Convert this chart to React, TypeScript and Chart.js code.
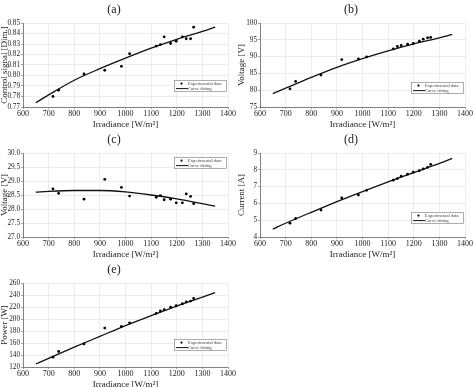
import React, { useEffect, useRef } from "react";
import { Chart, registerables } from "chart.js";

Chart.register(...registerables);

// ---------- data ----------
const irradiance = [717, 739, 838, 919, 984, 1016, 1120, 1136, 1151, 1176, 1198, 1222, 1237, 1254, 1266];
const controlSignal = [0.780, 0.786, 0.8015, 0.805, 0.8087, 0.8207, 0.828, 0.8295, 0.8368, 0.8305, 0.8327, 0.8368, 0.835, 0.835, 0.846];
const panelVoltage = [80.4, 82.6, 84.5, 89.1, 89.3, 89.9, 92.3, 93.0, 93.3, 93.7, 93.9, 94.6, 95.2, 95.6, 95.7];
const loadVoltage = [28.72, 28.56, 28.35, 29.06, 28.77, 28.46, 28.42, 28.48, 28.33, 28.35, 28.22, 28.22, 28.54, 28.45, 28.19];
const current = [4.82, 5.1, 5.6, 6.32, 6.5, 6.78, 7.38, 7.48, 7.62, 7.74, 7.86, 7.95, 8.05, 8.15, 8.32];
const power = [136.4, 145.8, 158.4, 184.8, 187.5, 193.6, 209.5, 213.3, 215.5, 219.9, 222.1, 225.4, 228.7, 229.8, 234.2];

const fitIrradiance = [650, 700, 800, 900, 1000, 1100, 1200, 1300, 1350];
const fitControl = [0.774, 0.7815, 0.7955, 0.8065, 0.8165, 0.826, 0.8345, 0.842, 0.846];
const fitPanelVoltage = [79.0, 80.6, 83.8, 86.8, 89.4, 91.7, 93.8, 95.6, 96.6];
const fitLoadVoltage = [28.6, 28.63, 28.66, 28.66, 28.61, 28.5, 28.36, 28.19, 28.1];
const fitCurrent = [4.47, 4.82, 5.47, 6.1, 6.7, 7.28, 7.83, 8.38, 8.68];
const fitPower = [125, 134.5, 153, 171, 189, 205.5, 221.5, 236.5, 244];

const xTickRange = [600, 1400, 100];
const legendLabels = ["Experimental data", "Curve fitting"];

// ---------- panels ----------
type Panel = {
  title: string;
  yLabel: string;
  y: number[];
  fit: number[];
  yRange: number[];
  decimals: number;
  left: number;
  top: number;
  legendTop: number;
};

const panels: Panel[] = [
  { title: "(a)", yLabel: "Control signal [Dim.]", y: controlSignal, fit: fitControl, yRange: [0.77, 0.85, 0.01], decimals: 2, left: 0, top: 0, legendTop: 80 },
  { title: "(b)", yLabel: "Voltage [V]", y: panelVoltage, fit: fitPanelVoltage, yRange: [75, 100, 5], decimals: 0, left: 237, top: 0, legendTop: 82 },
  { title: "(c)", yLabel: "Voltage [V]", y: loadVoltage, fit: fitLoadVoltage, yRange: [27, 30, 0.5], decimals: 1, left: 0, top: 130, legendTop: 27 },
  { title: "(d)", yLabel: "Current [A]", y: current, fit: fitCurrent, yRange: [4, 9, 1], decimals: 0, left: 237, top: 130, legendTop: 82 },
  { title: "(e)", yLabel: "Power [W]", y: power, fit: fitPower, yRange: [120, 260, 20], decimals: 0, left: 0, top: 260, legendTop: 79 },
];

const FONT = "'Liberation Serif', 'DejaVu Serif', serif";
const W = 237;
const H = 130;

const insetLegend = {
  id: "insetLegend",
  afterDatasetsDraw(chart: any, _args: any, opts: any) {
    const { ctx, chartArea } = chart;
    const w = 53;
    const h = 12;
    const x = chartArea.right - 1 - w;
    const y = opts.top;
    const ds = chart.data.datasets;
    ctx.save();
    ctx.fillStyle = "#ffffff";
    ctx.fillRect(x, y, w, h);
    ctx.strokeStyle = "#8a8a8a";
    ctx.lineWidth = 0.7;
    ctx.strokeRect(x + 0.5, y + 0.5, w - 1, h - 1);
    ctx.font = `4.6px ${FONT}`;
    ctx.textBaseline = "middle";
    ctx.beginPath();
    ctx.arc(x + 7.5, y + 3.6, 1.1, 0, Math.PI * 2);
    ctx.fillStyle = "#000";
    ctx.fill();
    ctx.fillStyle = "#444";
    ctx.fillText(ds[0].label, x + 14, y + 3.6);
    ctx.strokeStyle = "#111";
    ctx.lineWidth = 1;
    ctx.beginPath();
    ctx.moveTo(x + 2, y + 8.6);
    ctx.lineTo(x + 14, y + 8.6);
    ctx.stroke();
    ctx.fillStyle = "#444";
    ctx.fillText(ds[1].label, x + 14, y + 8.6);
    ctx.restore();
  },
};

function PanelChart({ p }: { p: Panel }) {
  const ref = useRef<HTMLCanvasElement | null>(null);
  useEffect(() => {
    if (!ref.current) return;
    const scatter = irradiance.map((x, i) => ({ x, y: p.y[i] }));
    const curve = fitIrradiance.map((x, i) => ({ x, y: p.fit[i] }));
    const chart = new Chart(ref.current, {
      type: "scatter",
      data: {
        datasets: [
          {
            type: "scatter",
            label: legendLabels[0],
            data: scatter,
            pointRadius: 1.4,
            pointBackgroundColor: "#000",
            pointBorderWidth: 0,
            order: 0,
          } as any,
          {
            type: "line",
            label: legendLabels[1],
            data: curve,
            borderColor: "#111",
            borderWidth: 1.3,
            pointRadius: 0,
            fill: false,
            cubicInterpolationMode: "monotone",
            order: 1,
          } as any,
        ],
      },
      options: {
        animation: false,
        responsive: false,
        layout: { padding: { top: 0, right: 9, left: 0, bottom: 0 } },
        plugins: {
          legend: { display: false },
          tooltip: { enabled: false },
          title: {
            display: true,
            text: p.title,
            font: { family: FONT, size: 12, weight: "normal" },
            color: "#222",
            padding: { top: 3, bottom: 5.6 },
          },
          insetLegend: { top: p.legendTop },
        } as any,
        scales: {
          x: {
            type: "linear",
            min: xTickRange[0],
            max: xTickRange[1],
            ticks: {
              stepSize: xTickRange[2],
              autoSkip: false,
              maxRotation: 0,
              padding: 0,
              color: "#222",
              font: { family: FONT, size: 8 },
              callback: (v: any) => String(v),
            },
            grid: { color: "#e0e0e0", lineWidth: 0.6, tickColor: "#666", tickLength: 2 },
            border: { color: "#666", width: 0.8 },
            title: {
              display: true,
              text: "Irradiance [W/m²]",
              color: "#222",
              font: { family: FONT, size: 9, lineHeight: 1.2 },
              padding: 0,
            },
            afterFit(s: any) {
              s.height = 23;
            },
          },
          y: {
            type: "linear",
            min: p.yRange[0],
            max: p.yRange[1],
            ticks: {
              stepSize: p.yRange[2],
              autoSkip: false,
              padding: 1,
              color: "#222",
              font: { family: FONT, size: 7.2 },
              callback: (v: any) => Number(v).toFixed(p.decimals),
            },
            grid: { color: "#e0e0e0", lineWidth: 0.6, tickColor: "#666", tickLength: 2 },
            border: { color: "#666", width: 0.8 },
            title: {
              display: true,
              text: p.yLabel,
              color: "#222",
              font: { family: FONT, size: 9, lineHeight: 1.1 },
              padding: 0,
            },
            afterFit(s: any) {
              s.width = 23;
            },
          },
        },
      } as any,
      plugins: [insetLegend as any],
    });
    return () => chart.destroy();
  }, [p]);
  return (
    <div style={{ position: "absolute", left: p.left, top: p.top, width: W, height: H }}>
      <canvas ref={ref} width={W} height={H} style={{ width: W, height: H, display: "block" }} />
    </div>
  );
}

export default function App() {
  return (
    <div
      style={{
        position: "fixed",
        left: 0,
        top: 0,
        width: 474,
        height: 387,
        overflow: "hidden",
        background: "#fff",
      }}
    >
      {panels.map((p) => (
        <PanelChart key={p.title} p={p} />
      ))}
    </div>
  );
}
